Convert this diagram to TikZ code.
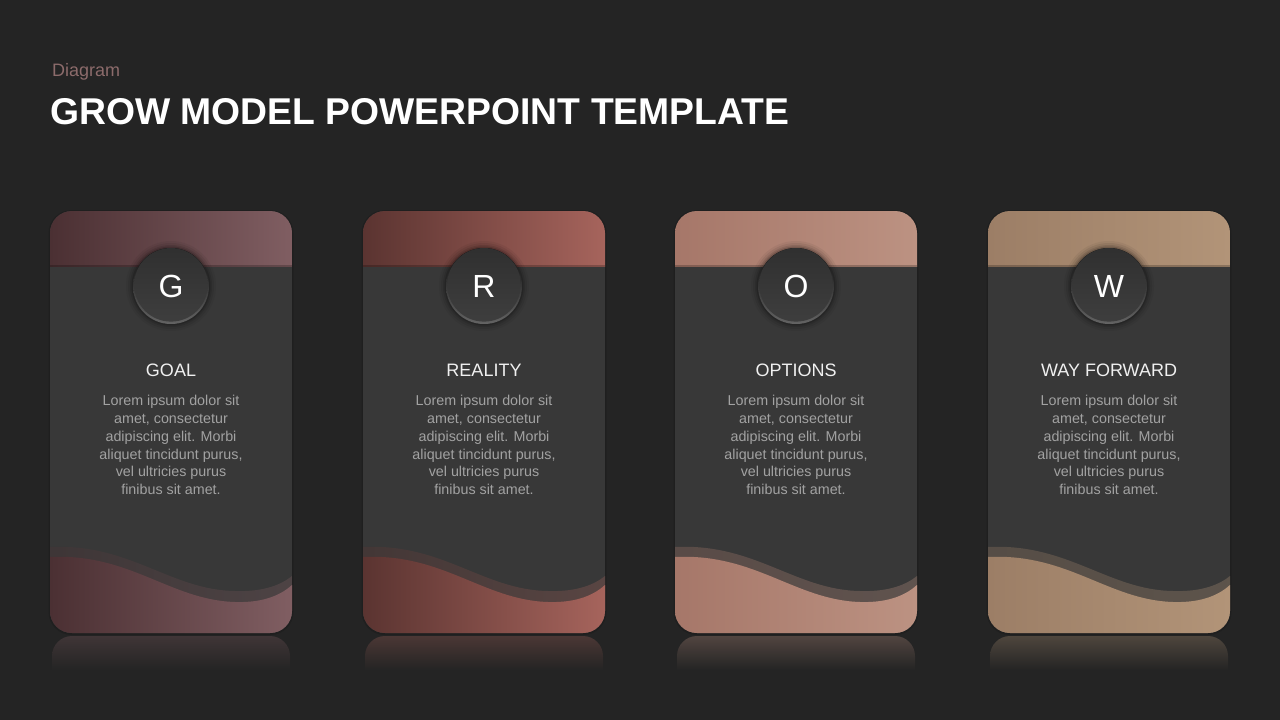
\documentclass[tikz,border=0pt]{standalone}
\usepackage{fontspec}
\setmainfont{Liberation Sans}
\definecolor{bgcol}{HTML}{242424}
\definecolor{bodycol}{HTML}{383838}
\definecolor{subcol}{HTML}{8C6B6B}
\definecolor{txtcol}{HTML}{A2A2A2}
\definecolor{aL}{HTML}{4B3033}\definecolor{aR}{HTML}{805E62}
\definecolor{bL}{HTML}{5B3431}\definecolor{bR}{HTML}{A6645C}
\definecolor{cL}{HTML}{A67769}\definecolor{cR}{HTML}{BC9282}
\definecolor{dL}{HTML}{9C7E66}\definecolor{dR}{HTML}{B29478}
\tikzset{
  cardtitle/.style={text=white!94!black,font=\fontsize{18}{22}\selectfont},
  cardtext/.style={text=txtcol,align=center,font=\fontsize{14.3}{17.7}\selectfont},
  letter/.style={text=white,font=\fontsize{32}{32}\selectfont},
}
\newcommand\growcard[6]{%
\begin{scope}[shift={(#1,0)}]
  % reflection
  \shade[top color=#3!30!bgcol,bottom color=bgcol]
    (2,670) [rounded corners=20] -- (2,636) -- (240,636) [sharp corners] -- (240,670) -- cycle;
  % card shadow
  \fill[black,opacity=0.12,rounded corners=23] (-1.5,210) rectangle (243.5,635);
  \begin{scope}
    \clip[rounded corners=22] (0,211) rectangle (242,633);
    \fill[bodycol] (0,211) rectangle (242,633);
    \shade[left color=#2,right color=#3] (0,211) rectangle (242,266);
    \fill[black,opacity=0.22] (0,265) rectangle (242,267);
    % wave band
    \shade[left color=#2!30!bodycol,right color=#3!30!bodycol]
      (0,547) .. controls (80,543) and (120,590) .. (185,591)
      .. controls (215,592) and (232,584) .. (242,576) -- (242,640) -- (0,640) -- cycle;
    % wave fill
    \shade[left color=#2,right color=#3]
      (0,557) .. controls (80,553) and (120,600) .. (185,602)
      .. controls (215,603) and (232,594) .. (242,585) -- (242,640) -- (0,640) -- cycle;
  \end{scope}
  % circle
  \foreach \r/\o in {45/0.05,43/0.07,41/0.1,39.5/0.15}{\fill[black,opacity=\o] (121,286) circle (\r);}
  \shade[top color=black!80!bodycol,bottom color=white!22!bodycol] (121,286) circle (38);
  \shade[top color=black!15!bodycol,bottom color=white!3!bodycol] (121,284.8) circle (36.8);
  \node[letter] (#6l) at (121,286) {#4};
  \node[cardtitle] (#6t) at (121,370) {#5};
  \node[cardtext,anchor=north] (#6b) at (121,392) {Lorem ipsum dolor sit\\amet, consectetur\\adipiscing elit. Morbi\\aliquet tincidunt purus,\\vel ultricies purus\\finibus sit amet.};
\end{scope}}
\begin{document}
\begin{tikzpicture}[x=1pt,y=-1pt]
\useasboundingbox (0,0) rectangle (1280,720);
\fill[bgcol] (0,0) rectangle (1280,720);
\node[anchor=west,text=subcol,font=\fontsize{18}{22}\selectfont,inner sep=0] (sub) at (52,72) {Diagram};
\node[anchor=west,text=white,font=\fontsize{37.3}{40}\bfseries,inner sep=0] (title) at (50,112) {GROW MODEL POWERPOINT TEMPLATE};
\growcard{50}{aL}{aR}{G}{GOAL}{g}
\growcard{363}{bL}{bR}{R}{REALITY}{r}
\growcard{675}{cL}{cR}{O}{OPTIONS}{o}
\growcard{988}{dL}{dR}{W}{WAY FORWARD}{w}
\end{tikzpicture}
\end{document}
